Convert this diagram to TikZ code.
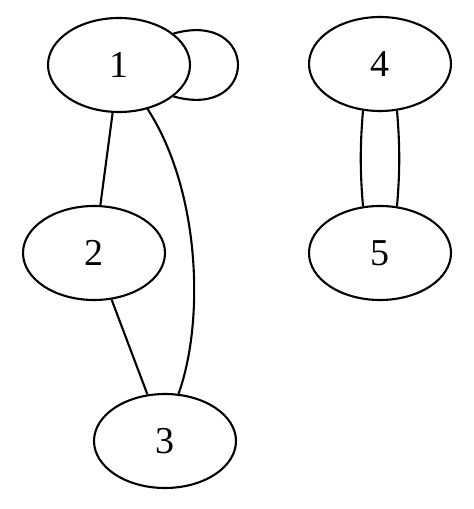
\documentclass[tikz,border=0pt]{standalone}
\usepackage{fontspec}
\setmainfont{Liberation Serif}
\usetikzlibrary{shapes.geometric}
\begin{document}
\begin{tikzpicture}[x=1pt,y=1pt,
  vertex/.style={draw, ellipse, line width=2.1pt, minimum width=142pt, minimum height=94pt, inner sep=0pt, font=\fontsize{38}{40}\selectfont},
  edge/.style={line width=2.1pt}]
\useasboundingbox (0,0) rectangle (474,509);
\node[vertex] (n1) at (119,444) {1};
\node[vertex] (n4) at (380,445) {4};
\node[vertex] (n2) at (94,256) {2};
\node[vertex] (n5) at (380,256) {5};
\node[vertex] (n3) at (165,68) {3};
\draw[edge] (n1.30) .. controls +(86,24) and +(86,-24) .. (n1.-30);
\draw[edge] (n1) -- (n2);
\draw[edge] (n2) -- (n3);
\draw[edge] (n1.-57) .. controls (200,319) and (205,189) .. (n3.74);
\draw[edge] (n4.-110) .. controls +(-3,-35) and +(-3,35) .. (n5.110);
\draw[edge] (n4.-70) .. controls +(3,-35) and +(3,35) .. (n5.70);
\end{tikzpicture}
\end{document}
